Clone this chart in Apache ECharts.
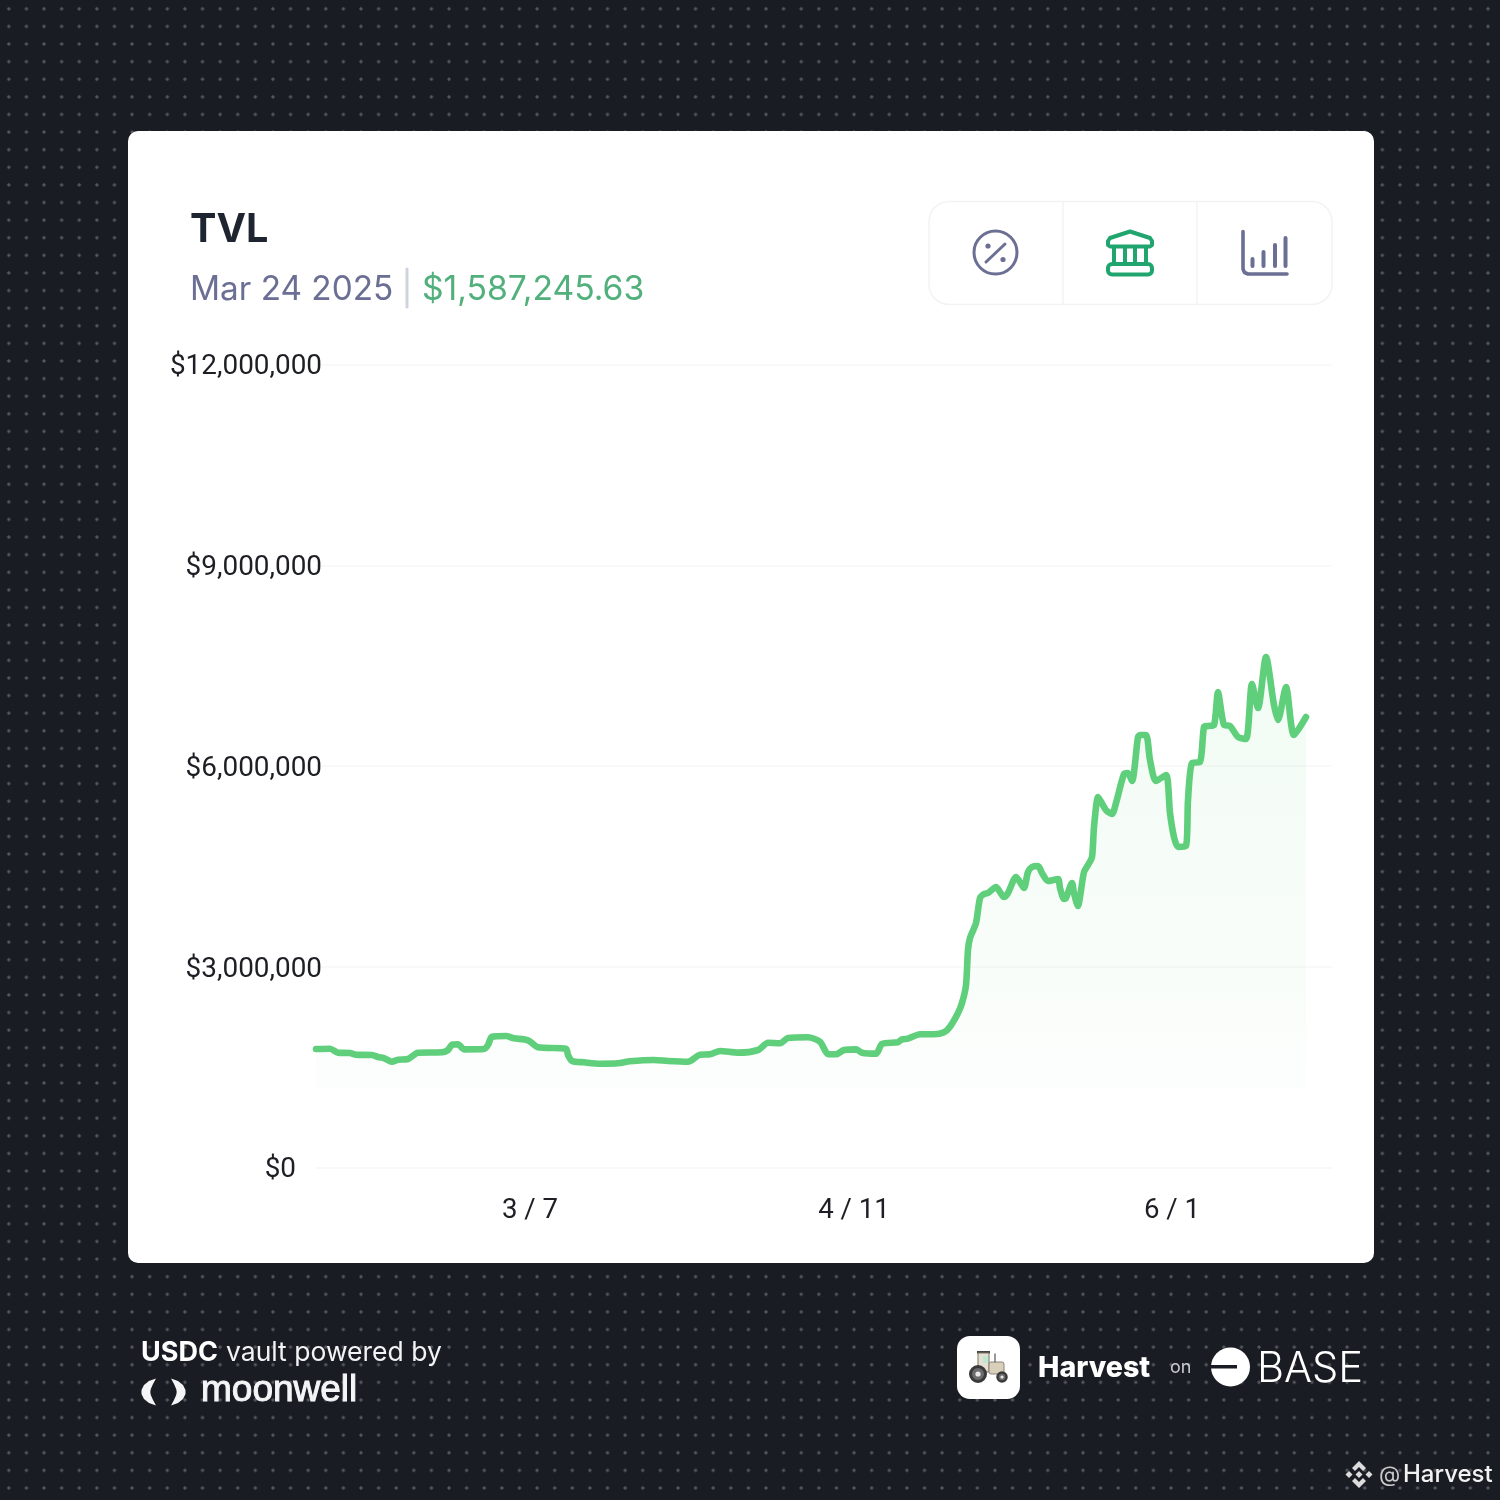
<!DOCTYPE html>
<html><head><meta charset="utf-8">
<style>
html,body{margin:0;padding:0;width:1500px;height:1500px;overflow:hidden;background-color:#191c22;
background-image:radial-gradient(circle at center,#5a5d63 0,#50535a 1.2px,rgba(25,28,34,0) 2.1px);
background-size:17.62px 17.62px;background-position:0 0;}
#c{position:absolute;left:0;top:0;width:1500px;height:1500px}
</style>
<script src="https://cdn.jsdelivr.net/npm/echarts@6/dist/echarts.min.js"></script>
</head><body><div id="c"></div>
<script>
// position along the x axis of each point
const samplePos = [0,7,11,17,20,28,31,34,38,41,46,51,63,66,68,71,74,84,86,88,95,99,106,111,125,126,128,134,142,151,157,169,176,186,192,197,202,211,221,226,232,236,246,252,256,260,264,270,273,280,283,291,293,296,302,309,314,317,321,323,325,326,327,330,332,334,336,340,342,344,346,350,352,354,356,358,361,363,366,371,372,374,375,378,379,381,382,384,386,388,389,391,392,395,398,400,404,406,408,411,412,415,417,420,425,427,429,431,435,436,438,442,444,446,449,451,454,457,461,465,468,471,475,479,481,485,489,495];
// TVL in USD millions
const tvlMillions = [1.771,1.775,1.716,1.711,1.686,1.681,1.651,1.636,1.581,1.611,1.621,1.716,1.722,1.756,1.835,1.841,1.766,1.771,1.831,1.955,1.965,1.931,1.901,1.796,1.775,1.681,1.592,1.572,1.551,1.557,1.587,1.607,1.592,1.581,1.686,1.692,1.741,1.716,1.756,1.865,1.856,1.935,1.946,1.880,1.696,1.692,1.756,1.766,1.716,1.701,1.846,1.871,1.916,1.925,1.991,1.991,2.020,2.104,2.309,2.458,2.727,3.250,3.430,3.654,4.027,4.087,4.102,4.192,4.117,4.042,4.102,4.341,4.267,4.177,4.416,4.491,4.506,4.401,4.281,4.311,4.177,4.013,4.027,4.252,4.102,3.908,4.042,4.416,4.521,4.640,5.088,5.537,5.492,5.342,5.283,5.447,5.881,5.895,5.776,6.433,6.463,6.463,6.090,5.776,5.866,5.298,4.939,4.790,4.805,5.492,6.045,6.060,6.583,6.598,6.613,7.106,6.613,6.598,6.433,6.404,7.226,6.867,7.629,6.912,6.687,7.181,6.463,6.732];
const xTickPos = [107,269,428];
const xTickLabels = ['3 / 7','4 / 11','6 / 1'];
const yTicks = [0,3000000,6000000,9000000,12000000];
const titleText = 'TVL';
const dateText = 'Mar 24 2025';
const valueText = '$1,587,245.63';

const INTER = 'Inter, "Noto Sans", sans-serif';
const ROBOTO = 'Roboto, "Noto Sans", sans-serif';
const GREY = '#6b6f93', GREEN = '#20a56f', BG = '#191c22';
const t = (x,y,text,size,fill,weight,extra) => ({type:'text',silent:true,style:Object.assign({x,y,text,fill,fontFamily:INTER,fontSize:size,fontWeight:weight||400,verticalAlign:'middle',textAlign:'left'},extra||{})});
const ln = (x1,y1,x2,y2,stroke,w) => ({type:'line',silent:true,shape:{x1,y1,x2,y2},style:{stroke,lineWidth:w,lineCap:'round'}});
const poly = (points,style) => ({type:'polygon',silent:true,shape:{points},style});
const circ = (cx,cy,r,style) => ({type:'circle',silent:true,shape:{cx,cy,r},style});
const crescent = [[156,1378.5],[149,1381],[144,1385],[141.5,1390],[141.5,1394],[144,1399],[149,1403],[156,1405.5],[153,1400],[150.8,1395],[150.3,1392],[150.8,1389],[153,1384]];
const diamonds = [
  [[1359,1461],[1366,1468],[1363,1471],[1359,1467],[1355,1471],[1352,1468]],
  [[1359,1488],[1352,1481],[1355,1478],[1359,1482],[1363,1478],[1366,1481]],
  [[1349,1471],[1352.5,1474.5],[1349,1478],[1345.5,1474.5]],
  [[1369,1471],[1372.5,1474.5],[1369,1478],[1365.5,1474.5]],
  [[1359,1471],[1362.5,1474.5],[1359,1478],[1355.5,1474.5]]
];

const graphics = [
  {type:'rect',silent:true,z:-10,shape:{x:128,y:131,width:1246,height:1132,r:10},style:{fill:'#fff'}},
  t(190,230,titleText,39.6,'#1f2530',700),
  t(190,289.5,dateText,33.3,GREY,400),
  ln(407,269,407,307,'#cfd3de',3),
  t(422,289.5,valueText,33.7,'#52b07c',400),
  // tab box
  {type:'rect',silent:true,shape:{x:929,y:201.5,width:403,height:103,r:20},style:{fill:'#fff',stroke:'#f1f3f5',lineWidth:1.5}},
  ln(1063,202,1063,304,'#f1f5f5',1.5), ln(1197,202,1197,304,'#f1f5f5',1.5),
  // percent icon
  circ(995.5,252.5,21.5,{fill:'none',stroke:GREY,lineWidth:3}),
  ln(986,262,1005,244,GREY,3),
  circ(988,246,2.6,{fill:GREY}),
  circ(1003,259.5,2.6,{fill:GREY}),
  // bank icon
  poly([[1110,238],[1130,231.5],[1150,238],[1152,241],[1152,245],[1150,246.5],[1110,246.5],[1108,245],[1108,241]],{fill:'none',stroke:GREEN,lineWidth:4,lineJoin:'round'}),
  {type:'rect',silent:true,shape:{x:1108,y:264,width:44,height:10.5,r:4},style:{fill:'none',stroke:GREEN,lineWidth:4}},
  ln(1114,247,1114,263,GREEN,4), ln(1125,247,1125,263,GREEN,4), ln(1135,247,1135,263,GREEN,4), ln(1146,247,1146,263,GREEN,4),
  // bars icon
  {type:'polyline',silent:true,shape:{points:[[1243,231.5],[1243,269],[1244.5,272.5],[1248,274],[1287,274]]},style:{fill:'none',stroke:GREY,lineWidth:3.6,lineCap:'round',lineJoin:'round'}},
  ln(1252.5,259,1252.5,266,GREY,4), ln(1263.5,252,1263.5,266,GREY,4), ln(1275,245,1275,266,GREY,4), ln(1285.5,238,1285.5,266,GREY,4),
  // footer left
  t(141,1353,'USDC',27,'#fff',700),
  t(226,1353,'vault powered by',26.5,'#f2f3f5',400),
  poly(crescent,{fill:'#f4f5f7'}),
  poly(crescent.map(p=>[327-p[0],p[1]]),{fill:'#f4f5f7'}),
  t(201,1391,'moonwell',37,'#f4f5f7',400,{fontFamily:'"Liberation Sans", sans-serif',stroke:'#f4f5f7',lineWidth:1}),
  // footer right: logo tile with tractor
  {type:'rect',silent:true,shape:{x:957,y:1336,width:63,height:63,r:13},style:{fill:'#fff'}},
  {type:'rect',silent:true,shape:{x:977,y:1351,width:13,height:2.5},style:{fill:'#444'}},
  {type:'rect',silent:true,shape:{x:978,y:1353,width:11,height:19},style:{fill:'#e6e0d2',stroke:'#7a7468',lineWidth:1}},
  {type:'rect',silent:true,shape:{x:983,y:1356,width:5,height:7},style:{fill:'#bfe8d2'}},
  {type:'rect',silent:true,shape:{x:989,y:1362,width:15,height:12,r:2},style:{fill:'#d9d0bc',stroke:'#8a8474',lineWidth:1}},
  ln(995,1354,995,1362,'#777',1.5),
  circ(978,1374,7.5,{fill:'#6c6c6c',stroke:'#3a3a3a',lineWidth:3}),
  circ(978,1374,2.6,{fill:'#e8e8e8'}),
  circ(1002,1377,4.5,{fill:'#6c6c6c',stroke:'#3a3a3a',lineWidth:2.5}),
  circ(1002,1377,1.6,{fill:'#e8e8e8'}),
  t(1038,1368,'Harvest',28.6,'#fff',800),
  t(1170,1368,'on',18,'#c9cbd0',400),
  circ(1230.5,1367,19.5,{fill:'#fff'}),
  {type:'rect',silent:true,shape:{x:1210,y:1365,width:27,height:3.5},style:{fill:BG}},
  t(1257,1369,'BASE',41.6,'#fff',300),
  // watermark
  ...diamonds.map(d=>poly(d,{fill:'#dcdcdc'})),
  t(1379,1475,'@',22,'#c9c9c9',400),
  t(1403,1475,'Harvest',24,'#f2f2f2',500)
];

const chart = echarts.init(document.getElementById('c'),null,{renderer:'canvas'});
chart.setOption({
  animation:false,
  backgroundColor:'transparent',
  grid:{left:316,top:364.5,width:1016,height:803},
  graphic:{elements:graphics},
  xAxis:{type:'value',min:0,max:508,splitLine:{show:false},axisLine:{show:false},axisTick:{show:false},
    axisLabel:{customValues:xTickPos,margin:30,fontFamily:ROBOTO,fontSize:27.6,color:'#1d1f24',
      formatter:v=>xTickLabels[xTickPos.indexOf(v)]||''}},
  yAxis:{type:'value',min:yTicks[0],max:yTicks[yTicks.length-1],interval:yTicks[1]-yTicks[0],
    axisLine:{show:false},axisTick:{show:false},
    splitLine:{lineStyle:{color:'#f6f7f7',width:1.5}},
    axisLabel:{margin:-6,padding:[6,0,0,0],fontFamily:ROBOTO,fontSize:27.9,color:'#1d1f24',
      formatter:v=>v===0?'{z|$0}':'$'+v.toLocaleString('en-US'),
      rich:{z:{fontFamily:ROBOTO,fontSize:27.9,color:'#1d1f24',padding:[0,26,0,0]}}}},
  series:[{type:'line',name:'TVL',data:samplePos.map((p,i)=>[p,tvlMillions[i]*1e6]),
    showSymbol:false,symbol:'none',smooth:0.25,clip:false,
    lineStyle:{color:'#5fcf7b',width:6.6,cap:'round',join:'round'},
    areaStyle:{origin:1190000,color:new echarts.graphic.LinearGradient(0,0,0,1,[
      {offset:0,color:'rgba(95,207,123,0.12)'},{offset:1,color:'rgba(95,207,123,0.03)'}])}}]
});
</script></body></html>
